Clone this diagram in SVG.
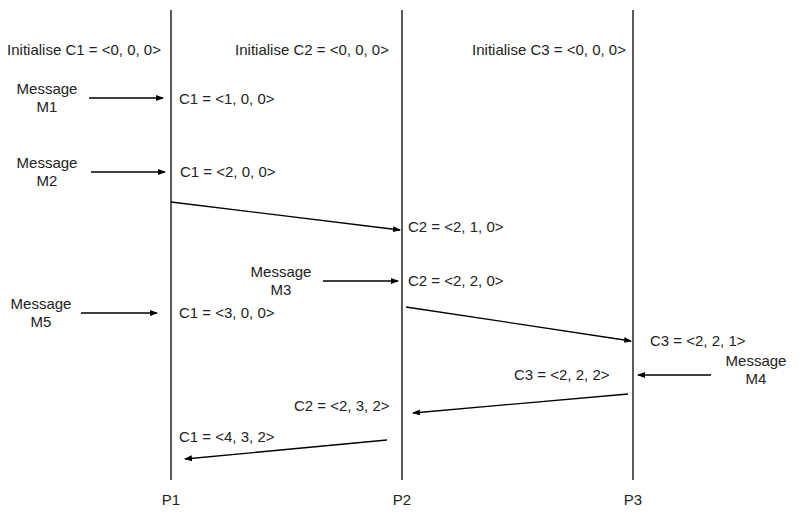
<svg xmlns="http://www.w3.org/2000/svg" width="800" height="524" viewBox="0 0 800 524">
<style>
text{font-family:"Liberation Sans",Arial,sans-serif;font-size:15px;fill:#222}
.m{text-anchor:middle}
.l{stroke:#000;stroke-width:1.3;fill:none}
.a{stroke:#000;stroke-width:1.3;fill:none;marker-end:url(#ah)}
</style>
<defs><marker id="ah" markerWidth="8" markerHeight="8" refX="7" refY="4" orient="auto" markerUnits="userSpaceOnUse"><path d="M0,1 L8,4 L0,7 Z" fill="#000"/></marker></defs>
<rect width="800" height="524" fill="#fff"/>
<g id="p1"><line class="l" x1="171" y1="10" x2="171" y2="480"/><text class="m" x="171" y="505">P1</text></g>
<g id="p2"><line class="l" x1="402" y1="10" x2="402" y2="480"/><text class="m" x="402" y="505">P2</text></g>
<g id="p3"><line class="l" x1="633" y1="10" x2="633" y2="480"/><text class="m" x="633" y="505">P3</text></g>
<g id="labels">
<text class="m" x="84" y="55">Initialise C1 = &lt;0, 0, 0&gt;</text>
<text class="m" x="312" y="55">Initialise C2 = &lt;0, 0, 0&gt;</text>
<text class="m" x="549" y="55">Initialise C3 = &lt;0, 0, 0&gt;</text>
<text class="m" x="47" y="94">Message</text><text class="m" x="47" y="112">M1</text>
<text class="m" x="47" y="168">Message</text><text class="m" x="47" y="186">M2</text>
<text class="m" x="281" y="277">Message</text><text class="m" x="281" y="295">M3</text>
<text class="m" x="41" y="309">Message</text><text class="m" x="41" y="327">M5</text>
<text class="m" x="756" y="366">Message</text><text class="m" x="756" y="384">M4</text>
<text x="179" y="104">C1 = &lt;1, 0, 0&gt;</text>
<text x="180" y="177">C1 = &lt;2, 0, 0&gt;</text>
<text x="408" y="232">C2 = &lt;2, 1, 0&gt;</text>
<text x="408" y="286">C2 = &lt;2, 2, 0&gt;</text>
<text x="179" y="318">C1 = &lt;3, 0, 0&gt;</text>
<text x="650" y="346">C3 = &lt;2, 2, 1&gt;</text>
<text x="514" y="380">C3 = &lt;2, 2, 2&gt;</text>
<text x="294" y="411">C2 = &lt;2, 3, 2&gt;</text>
<text x="179" y="442">C1 = &lt;4, 3, 2&gt;</text>
</g>
<g id="connectors">
<line class="a" x1="89" y1="98" x2="163" y2="98"/>
<line class="a" x1="91" y1="172" x2="165" y2="172"/>
<line class="a" x1="171" y1="202" x2="400" y2="230"/>
<line class="a" x1="323" y1="281" x2="398" y2="281"/>
<line class="a" x1="81" y1="313" x2="157" y2="313"/>
<line class="a" x1="406" y1="307" x2="631" y2="341"/>
<line class="a" x1="711" y1="375" x2="638" y2="375"/>
<line class="a" x1="628" y1="394" x2="413" y2="413"/>
<line class="a" x1="387" y1="440" x2="185" y2="459"/>
</g>
</svg>
